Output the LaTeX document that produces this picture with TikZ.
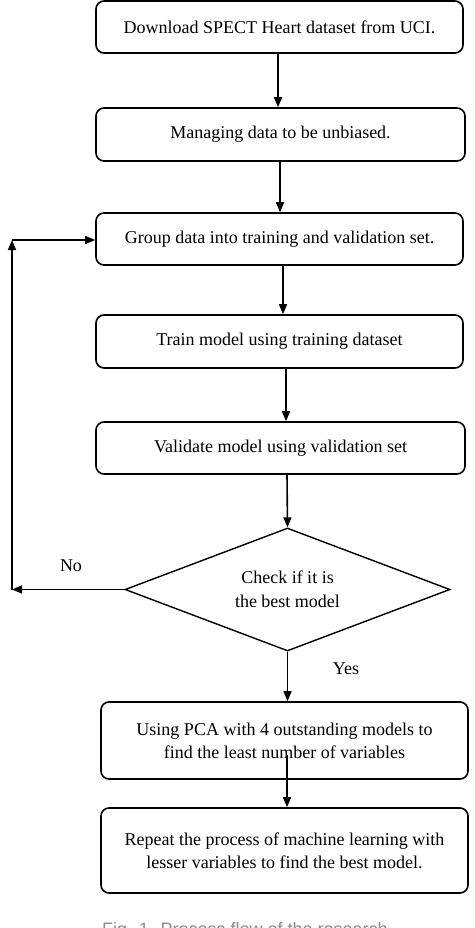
\documentclass[tikz,border=0pt]{standalone}
\usepackage{fontspec}
\setmainfont{Liberation Serif}
\newfontfamily\capfont{Liberation Sans}
\usetikzlibrary{shapes.geometric,arrows.meta,calc}
\begin{document}
\begin{tikzpicture}[x=1pt,y=-1pt,
  procbox/.style={draw=black,line width=1.6pt,rounded corners=8pt,inner sep=0pt,
    minimum width=367pt,align=center,font=\fontsize{18}{23}\selectfont},
  decbox/.style={draw=black,line width=1.4pt,shape=diamond,aspect=2.6,inner sep=0pt,
    minimum width=325pt,minimum height=123pt,align=center,font=\fontsize{18}{24}\selectfont},
  arr/.style={line width=1.6pt,-{Triangle[width=8pt,length=10pt]}},
  lbl/.style={font=\fontsize{18}{23}\selectfont,inner sep=0pt}]
\useasboundingbox (0,0) rectangle (474,928);
\fill[white] (0,0) rectangle (474,928);
\node[procbox,minimum height=52pt] (b1) at (279.5,27) {Download SPECT Heart dataset from UCI.};
\node[procbox,minimum height=53pt,minimum width=369pt] (b2) at (280.5,134.5) {Managing data to be unbiased.};
\node[procbox,minimum height=52pt] (b3) at (279.5,239) {Group data into training and validation set.};
\node[procbox,minimum height=53pt] (b4) at (279.5,341.5) {Train model using training dataset};
\node[procbox,minimum height=52pt,minimum width=369pt] (b5) at (280.5,448) {Validate model using validation set};
\node[decbox] (d) at (287.5,589.5) {Check if it is\\the best model};
\node[procbox,minimum height=77pt] (b6) at (284.5,740.5) {Using PCA with 4 outstanding models to\\find the least number of variables};
\node[procbox,minimum height=85pt] (b7) at (284.5,850.5) {Repeat the process of machine learning with\\lesser variables to find the best model.};
\coordinate (c1) at (12,589.5);
\coordinate (c2) at (12,240);
\coordinate (c3) at (287,755);
\node[lbl] (no) at (71,566) {No};
\node[lbl] (yes) at (346,669) {Yes};
\draw[arr] ([xshift=-1.5pt]b1.south) -- ([xshift=-1.5pt]b1.south |- b2.north);
\draw[arr] ([xshift=-0.5pt]b2.south) -- ([xshift=-0.5pt]b2.south |- b3.north);
\draw[arr] ([xshift=3.5pt]b3.south) -- ([xshift=3.5pt]b3.south |- b4.north);
\draw[arr] ([xshift=6.5pt]b4.south) -- ([xshift=6.5pt]b4.south |- b5.north);
\draw[arr] ([xshift=6.5pt]b5.south) -- (d.north);
\draw[arr] (d.west) -- (c1);
\draw[arr] (c1) -- (c2);
\draw[arr] (c2) -- (b3.west |- c2);
\draw[arr] (d.south) -- (d.south |- b6.north);
\draw[arr] (c3) -- (c3 |- b7.north);
\node[anchor=base west,inner sep=0pt,text=black!45,font=\capfont\fontsize{18}{22}\selectfont] (cap) at (102,935) {Fig. 1. Process flow of the research};
\end{tikzpicture}
\end{document}
